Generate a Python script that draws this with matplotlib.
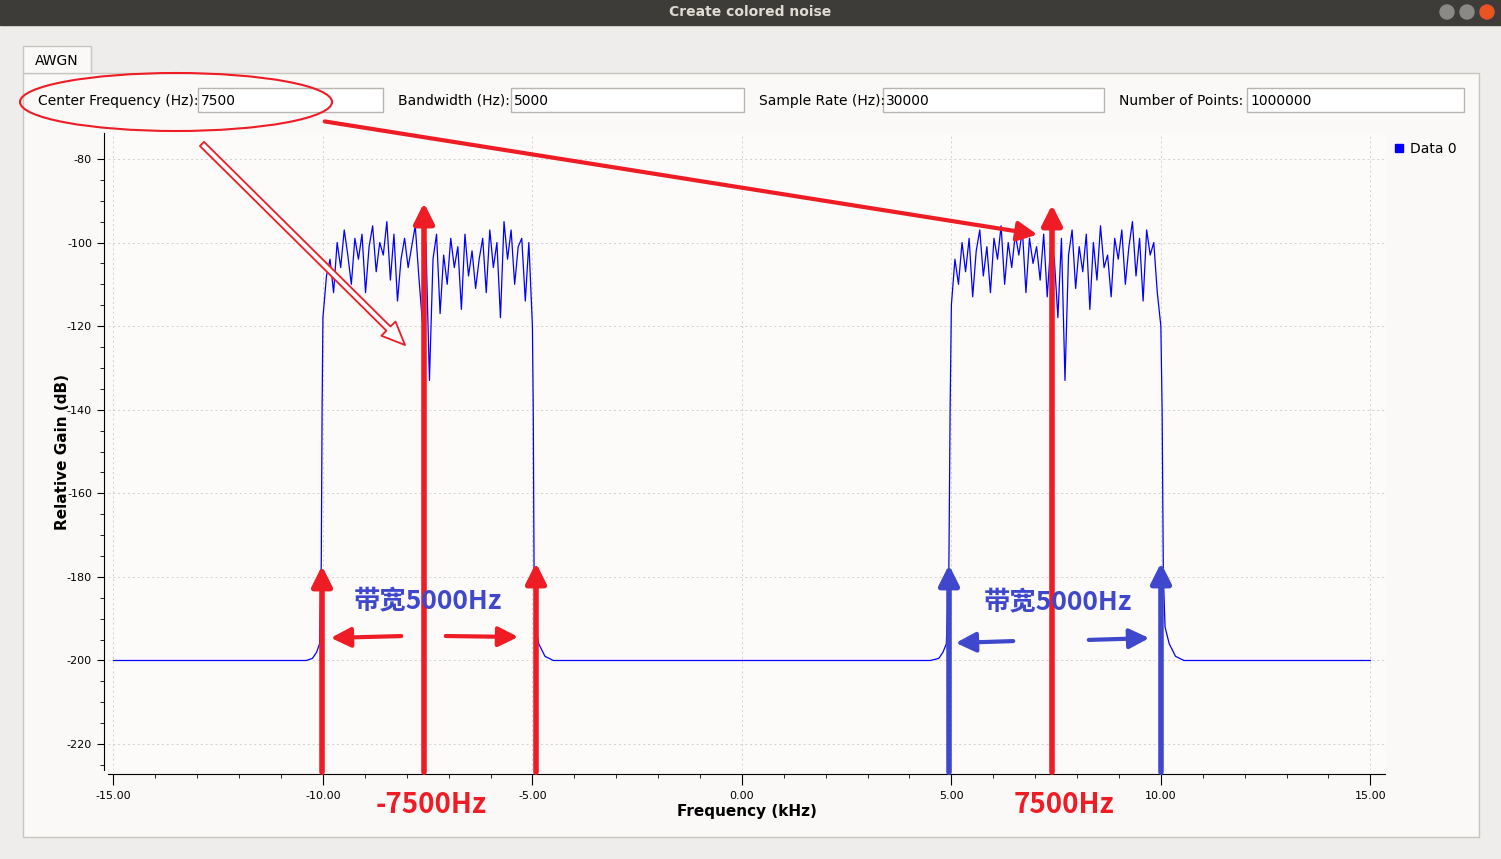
import numpy as np
import matplotlib
matplotlib.use("Agg")
import matplotlib.pyplot as plt
from matplotlib.patches import Rectangle, Ellipse, FancyArrowPatch
from matplotlib.lines import Line2D

W, H = 1501, 859
# ---------------- data ----------------
band_left_noise = [-118,-108,-104,-112,-100,-106,-97,-103,-110,-99,-104,-98,-112,-101,-96,-107,-100,-103,-95,-109,
                   -98,-114,-104,-99,-106,-101,-96,-108,-119,-100,-133,-104,-98,-117,-103,-110,-99,-106,-101,-116,
                   -98,-108,-102,-111,-104,-99,-112,-97,-106,-100,-118,-95,-104,-97,-110,-101,-99,-114,-100,-120]
band_right_noise = [-115,-104,-110,-100,-107,-99,-113,-102,-97,-108,-101,-112,-99,-104,-96,-110,-100,-106,-98,-103,
                    -97,-112,-99,-105,-101,-109,-98,-113,-100,-104,-118,-99,-133,-103,-97,-111,-101,-107,-98,-116,
                    -100,-109,-96,-106,-103,-113,-99,-104,-97,-110,-101,-95,-108,-99,-114,-97,-103,-100,-112,-120]
low_start_f = [-15.0, -10.4, -10.25, -10.15, -10.08, -10.04, -10.02]
low_start_g = [-200, -200, -199.5, -198, -196, -177, -140]
mid_f = [-4.98, -4.96, -4.92, -4.85, -4.7, -4.5, 4.5, 4.7, 4.8, 4.88, 4.94, 4.97]
mid_g = [-140, -180, -192, -196, -199, -200, -200, -199.5, -198, -196, -178, -140]
high_end_f = [10.03, 10.06, 10.1, 10.2, 10.35, 10.55, 15.0]
high_end_g = [-140, -180, -192, -196, -199, -200, -200]
x_major = [-15, -10, -5, 0, 5, 10, 15]
x_labels = ["-15.00", "-10.00", "-5.00", "0.00", "5.00", "10.00", "15.00"]
y_major = [-220, -200, -180, -160, -140, -120, -100, -80]

freq = np.concatenate([low_start_f, np.linspace(-10.0, -5.0, len(band_left_noise)), mid_f,
                       np.linspace(5.0, 10.0, len(band_right_noise)), high_end_f])
gain = np.concatenate([low_start_g, band_left_noise, mid_g, band_right_noise, high_end_g])

def fx(x): return x / W
def fy(y): return 1 - y / H

fig = plt.figure(figsize=(15.01, 8.59), dpi=100)
fig.patch.set_facecolor("#efedeb")
BG = -5
fig.add_artist(Rectangle((0, fy(25)), 1, 25 / H, transform=fig.transFigure, color="#3d3c38", zorder=BG))
fig.text(0.5, fy(12), "Create colored noise", color="#dfdbd2", ha="center", va="center", fontsize=10, weight="bold")
for i, c in enumerate(["#8a8985", "#8a8985", "#e95420"]):
    fig.add_artist(Ellipse((fx(1447 + i * 20), fy(12)), 14 / W, 14 / H, transform=fig.transFigure, color=c))
fig.add_artist(Rectangle((fx(23), fy(837)), (1479 - 23) / W, (837 - 73) / H, transform=fig.transFigure,
                         facecolor="#faf9f8", edgecolor="#c8c5c1", lw=1, zorder=BG))
fig.add_artist(Rectangle((fx(23), fy(73)), 68 / W, 27 / H, transform=fig.transFigure,
                         facecolor="#faf9f8", edgecolor="#c8c5c1", lw=1, zorder=BG))
fig.text(fx(57), fy(61), "AWGN", ha="center", va="center", fontsize=10)
fields = [(38, 198, 383, "Center Frequency (Hz):", "7500"), (398, 511, 744, "Bandwidth (Hz):", "5000"),
          (759, 883, 1104, "Sample Rate (Hz):", "30000"), (1119, 1247, 1464, "Number of Points:", "1000000")]
for lx, bx0, bx1, lab, val in fields:
    fig.text(fx(lx), fy(101), lab, va="center", fontsize=10)
    fig.add_artist(Rectangle((fx(bx0), fy(112)), (bx1 - bx0) / W, 24 / H, transform=fig.transFigure,
                             facecolor="white", edgecolor="#b8b5b0", lw=1, zorder=BG))
    fig.text(fx(bx0 + 3), fy(101), val, va="center", fontsize=10)

ax = fig.add_axes([fx(108), fy(770), (1385 - 108) / W, (770 - 133) / H])
ax.set_facecolor("#fcfbfa")
ax.plot(freq, gain, color="#0000ff", lw=0.9)
for s in ["top", "right"]:
    ax.spines[s].set_visible(False)
ax.spines["bottom"].set_position(("outward", 3))
ax.spines["left"].set_position(("outward", 3))
ax.set_xlim(-15.13, 15.35)
ax.set_ylim(-226.2, -73.8)
ax.set_xticks(x_major)
ax.set_xticklabels(x_labels)
ax.set_xticks(np.arange(-15, 15.1, 1), minor=True)
ax.set_yticks(y_major)
ax.set_yticklabels([str(v) for v in y_major])
ax.set_yticks(np.arange(-225, -75, 5), minor=True)
ax.grid(True, which="major", ls=(0, (2, 3)), color="#d0d0d0", lw=0.7)
ax.tick_params(which="both", direction="out", length=5, labelsize=8)
ax.tick_params(axis="x", which="major", length=8, pad=4)
ax.tick_params(which="minor", length=3)
ax.set_xlabel("Frequency (kHz)", fontsize=11, weight="bold", labelpad=2)
ax.set_ylabel("Relative Gain (dB)", fontsize=11, weight="bold", labelpad=-2)
handle = Line2D([], [], ls="none", marker="s", ms=6, color="#0000ff")
ax.legend([handle], ["Data 0"], loc="upper left", bbox_to_anchor=(0.998, 1.005), frameon=False,
          handlelength=0.6, handletextpad=0.5, fontsize=10)

def arr(x0, y0, x1, y1, color, lw=3, hw=0.5, hl=1.0):
    fig.add_artist(FancyArrowPatch((fx(x0), fy(y0)), (fx(x1), fy(y1)), transform=fig.transFigure,
                   arrowstyle=f"-|>,head_width={hw},head_length={hl}", color=color, lw=lw, mutation_scale=12, zorder=5))

red, blue = "#ee1c24", "#3f48cc"
fig.add_artist(Ellipse((fx(176), fy(102)), 312 / W, 58 / H, transform=fig.transFigure, fill=False, ec=red, lw=1.5, zorder=5))
arr(322, 121, 1040, 235, red, lw=3)
fig.add_artist(FancyArrowPatch((fx(200), fy(142)), (fx(407), fy(347)), transform=fig.transFigure,
               arrowstyle="simple,head_width=1.2,head_length=1.4,tail_width=0.35", fc="white", ec=red, lw=1.3,
               mutation_scale=12, zorder=5))
for x, y1 in [(424, 200), (1052, 202), (322, 563), (536, 560)]:
    arr(x, 775, x, y1, red, lw=4)
for x, y1 in [(949, 562), (1161, 560)]:
    arr(x, 775, x, y1, blue, lw=4)
arr(404, 636, 328, 638, red, lw=3)
arr(443, 636, 521, 637, red, lw=3)
arr(1016, 641, 953, 643, blue, lw=3)
arr(1086, 640, 1152, 638, blue, lw=3)
cjk = ["Noto Sans CJK SC", "DejaVu Sans"]
fig.text(fx(428), fy(601), "带宽5000Hz", color=blue, ha="center", va="center", fontsize=19, weight="bold", family=cjk, zorder=6)
fig.text(fx(1058), fy(602), "带宽5000Hz", color=blue, ha="center", va="center", fontsize=19, weight="bold", family=cjk, zorder=6)
fig.text(fx(431), fy(805), "-7500Hz", color=red, ha="center", va="center", fontsize=20, weight="bold", family=cjk, zorder=6)
fig.text(fx(1064), fy(805), "7500Hz", color=red, ha="center", va="center", fontsize=20, weight="bold", family=cjk, zorder=6)

fig.savefig("out.png", dpi=100)
